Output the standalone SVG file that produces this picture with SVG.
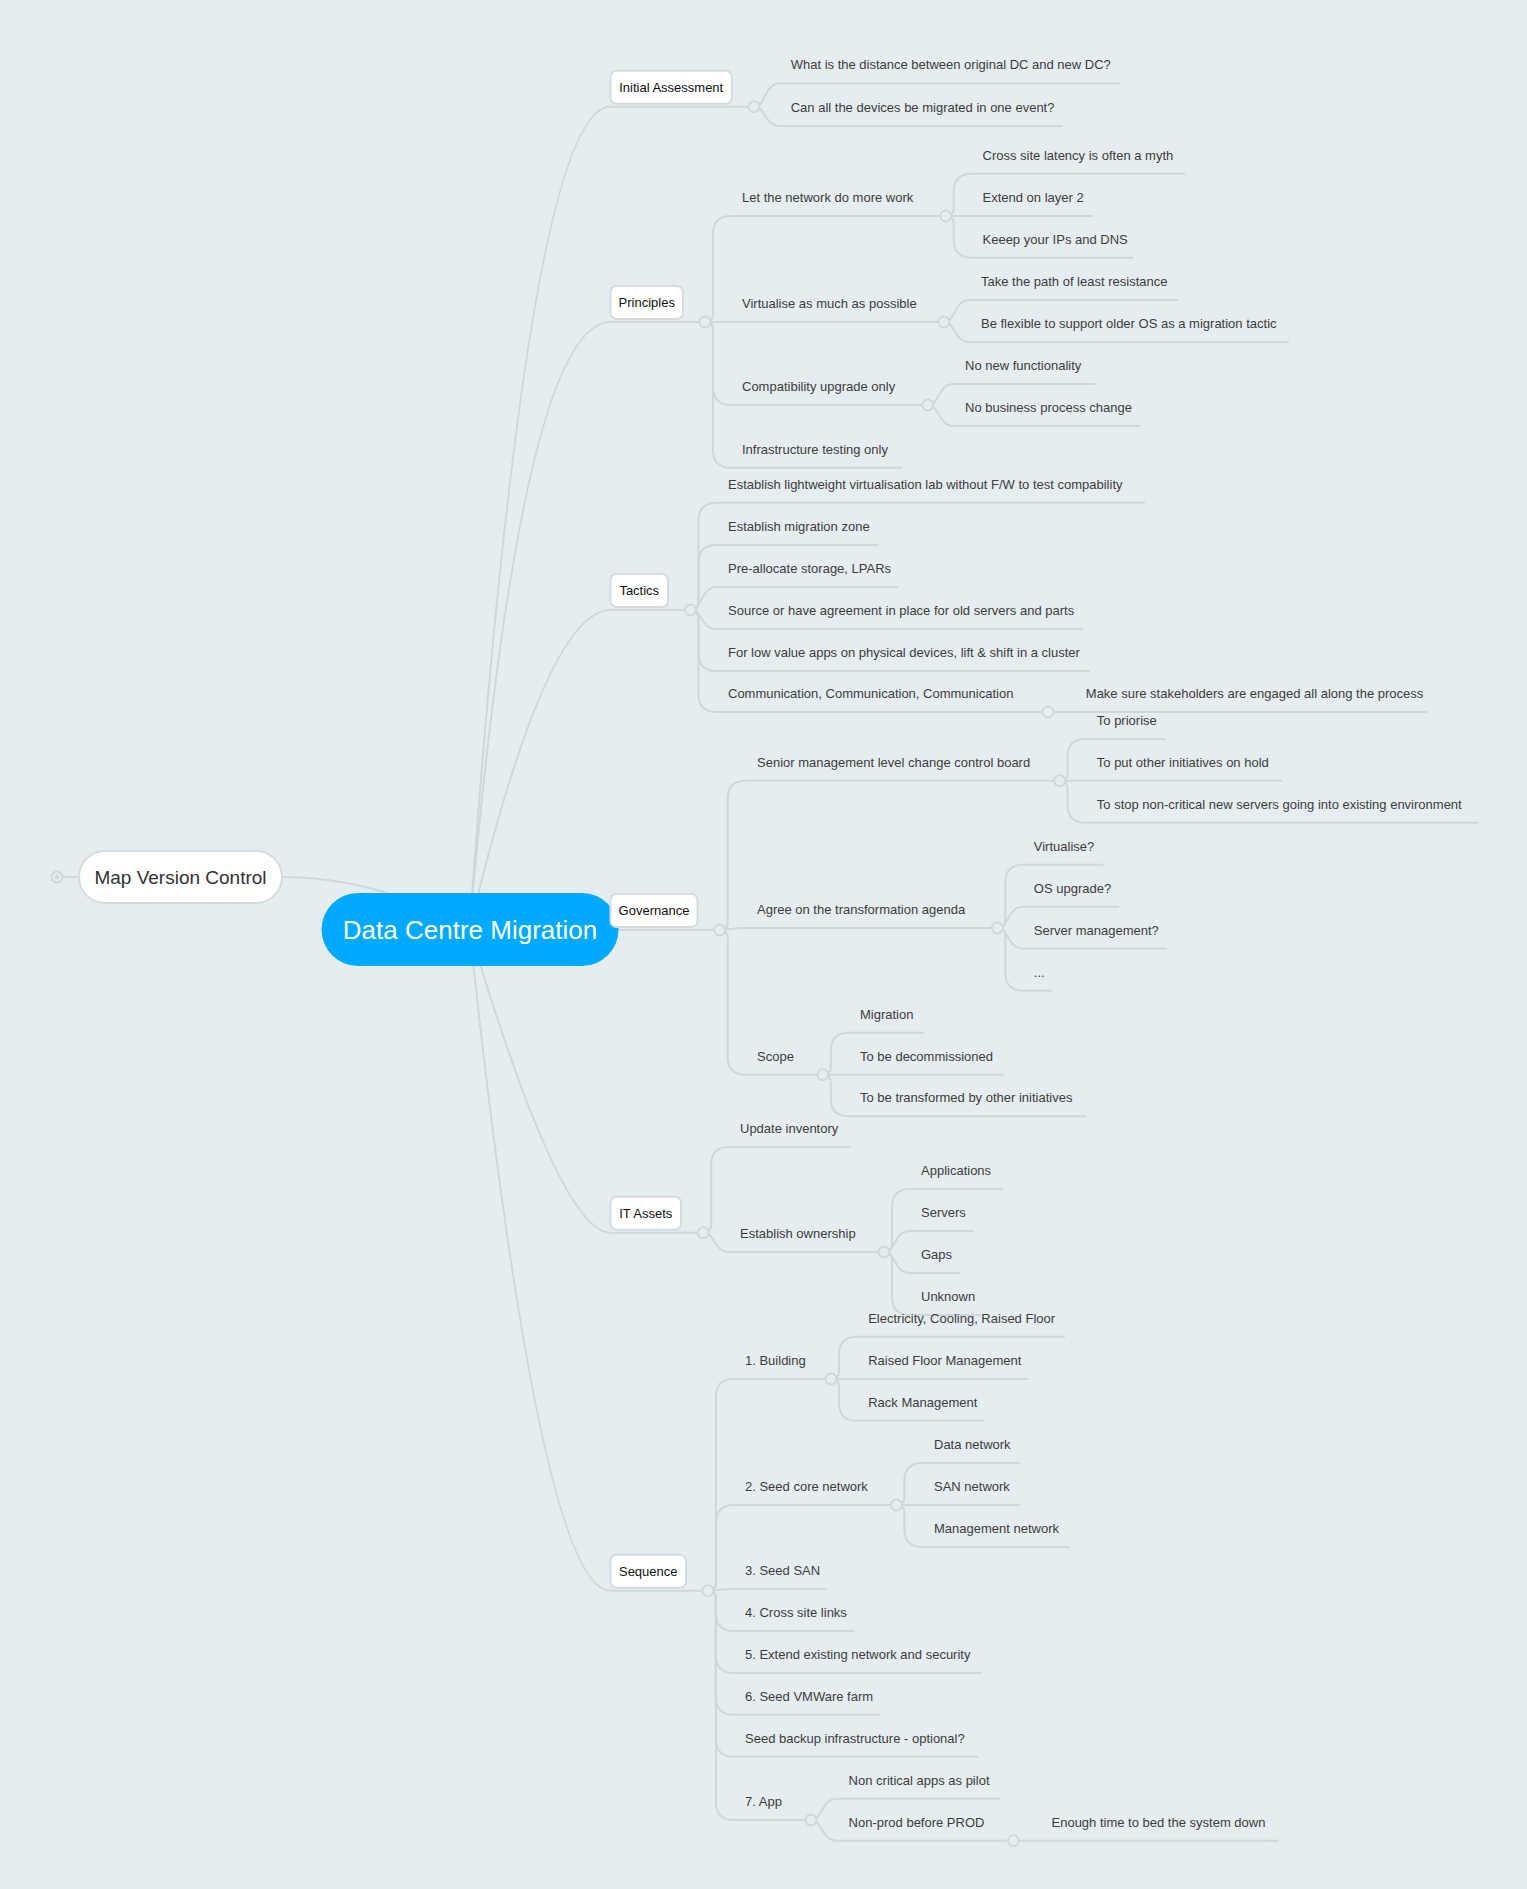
<svg xmlns="http://www.w3.org/2000/svg" width="1527" height="1889" viewBox="0 0 1527 1889">
<style>
.bg{fill:#e6edf1}
.ln{fill:none;stroke:#d0d6da;stroke-width:2;stroke-linecap:round}
.dot{fill:#e6edf1;stroke:#d0d6da;stroke-width:1.8}
.box{fill:#ffffff;stroke:#d5dbdf;stroke-width:2}
.mt{font-family:"Liberation Sans",Arial,sans-serif;font-size:13px;fill:#111111;text-anchor:middle}
.st{font-family:"Liberation Sans",Arial,sans-serif;font-size:13px;fill:#3c3c3c}
.rt{font-family:"Liberation Sans",Arial,sans-serif;font-size:26px;fill:#ffffff;text-anchor:middle}
.ft{font-family:"Liberation Sans",Arial,sans-serif;font-size:19px;fill:#333333;text-anchor:middle}
</style>
<rect class="bg" x="0" y="0" width="1527" height="1889"/>
<g id="connectors">
<path class="ln" d="M282,877 Q380,877 469.5,929.5"/>
<path class="ln" d="M62,877 L79,877"/>
<path class="ln" d="M469.5,929.5 Q528,106.7 610.5,106.7 L754,106.7"/>
<path class="ln" d="M469.5,929.5 Q522,322 610.5,322 L705,322"/>
<path class="ln" d="M469.5,929.5 Q546,610 610.5,610 L690.5,610"/>
<path class="ln" d="M469.5,930 L719.7,930"/>
<path class="ln" d="M469.5,929.5 Q560,1232.7 610.5,1232.7 L703.2,1232.7"/>
<path class="ln" d="M469.5,929.5 Q540,1590.7 610.5,1590.7 L707.9,1590.7"/>
<path class="ln" d="M754,106.7 C766,106.7 764,83.3 780,83.3 L1119,83.3"/>
<path class="ln" d="M754,106.7 C766,106.7 764,126 780,126 L1062,126"/>
<path class="ln" d="M705,322 Q713,322 713,314 L713,234 Q713,216 731,216 L945.7,216"/>
<path class="ln" d="M705,322 L943.8,322"/>
<path class="ln" d="M705,322 Q713,322 713,330 L713,387 Q713,405 731,405 L927.8,405"/>
<path class="ln" d="M705,322 Q713,322 713,330 L713,449.7 Q713,467.7 731,467.7 L901,467.7"/>
<path class="ln" d="M945.7,216 Q953.7,216 953.7,208 L953.7,191.7 Q953.7,173.7 971.7,173.7 L1184.5,173.7"/>
<path class="ln" d="M945.7,216 L1092,216"/>
<path class="ln" d="M945.7,216 Q953.7,216 953.7,224 L953.7,239.7 Q953.7,257.7 971.7,257.7 L1132.6,257.7"/>
<path class="ln" d="M943.8,322 C955.8,322 953.8,300 969.8,300 L1177,300"/>
<path class="ln" d="M943.8,322 C955.8,322 953.8,342 969.8,342 L1288,342"/>
<path class="ln" d="M927.8,405 C939.8,405 937.8,384 953.8,384 L1094.4,384"/>
<path class="ln" d="M927.8,405 C939.8,405 937.8,426 953.8,426 L1139.7,426"/>
<path class="ln" d="M690.5,610 Q698.5,610 698.5,602 L698.5,520.7 Q698.5,502.7 716.5,502.7 L1144,502.7"/>
<path class="ln" d="M690.5,610 Q698.5,610 698.5,602 L698.5,563 Q698.5,545 716.5,545 L878,545"/>
<path class="ln" d="M690.5,610 C702.5,610 700.5,587 716.5,587 L897,587"/>
<path class="ln" d="M690.5,610 C702.5,610 700.5,629 716.5,629 L1082,629"/>
<path class="ln" d="M690.5,610 Q698.5,610 698.5,618 L698.5,653 Q698.5,671 716.5,671 L1089,671"/>
<path class="ln" d="M690.5,610 Q698.5,610 698.5,618 L698.5,694 Q698.5,712 716.5,712 L1048,712"/>
<path class="ln" d="M1048,712 L1426,712"/>
<path class="ln" d="M719.7,930 Q727.7,930 727.7,922 L727.7,798.7 Q727.7,780.7 745.7,780.7 L1059.6,780.7"/>
<path class="ln" d="M719.7,930 C728,930 730,928 745.7,928 L997.3,928"/>
<path class="ln" d="M719.7,930 Q727.7,930 727.7,938 L727.7,1056.7 Q727.7,1074.7 745.7,1074.7 L822.8,1074.7"/>
<path class="ln" d="M1059.6,780.7 Q1067.6,780.7 1067.6,772.7 L1067.6,757 Q1067.6,739 1085.6,739 L1165,739"/>
<path class="ln" d="M1059.6,780.7 L1281.4,780.7"/>
<path class="ln" d="M1059.6,780.7 Q1067.6,780.7 1067.6,788.7 L1067.6,804.7 Q1067.6,822.7 1085.6,822.7 L1477.5,822.7"/>
<path class="ln" d="M997.3,928 Q1005.3,928 1005.3,920 L1005.3,882.7 Q1005.3,864.7 1023.3,864.7 L1102.8,864.7"/>
<path class="ln" d="M997.3,928 C1009.3,928 1007.3,906.7 1023.3,906.7 L1118.4,906.7"/>
<path class="ln" d="M997.3,928 C1009.3,928 1007.3,948.7 1023.3,948.7 L1166.3,948.7"/>
<path class="ln" d="M997.3,928 Q1005.3,928 1005.3,936 L1005.3,972.7 Q1005.3,990.7 1023.3,990.7 L1051.2,990.7"/>
<path class="ln" d="M822.8,1074.7 Q830.8,1074.7 830.8,1066.7 L830.8,1050.7 Q830.8,1032.7 848.8,1032.7 L923.5,1032.7"/>
<path class="ln" d="M822.8,1074.7 L1002.7,1074.7"/>
<path class="ln" d="M822.8,1074.7 Q830.8,1074.7 830.8,1082.7 L830.8,1098.3 Q830.8,1116.3 848.8,1116.3 L1085.4,1116.3"/>
<path class="ln" d="M703.2,1232.7 Q711.2,1232.7 711.2,1224.7 L711.2,1165 Q711.2,1147 729.2,1147 L849.6,1147"/>
<path class="ln" d="M703.2,1232.7 C715.2,1232.7 713.2,1252 729.2,1252 L884,1252"/>
<path class="ln" d="M884,1252 Q892,1252 892,1244 L892,1207 Q892,1189 910,1189 L1002,1189"/>
<path class="ln" d="M884,1252 C896,1252 894,1231 910,1231 L972.9,1231"/>
<path class="ln" d="M884,1252 C896,1252 894,1273 910,1273 L959.3,1273"/>
<path class="ln" d="M884,1252 Q892,1252 892,1260 L892,1297 Q892,1315 910,1315 L980,1315"/>
<path class="ln" d="M707.9,1590.7 Q715.9,1590.7 715.9,1582.7 L715.9,1397 Q715.9,1379 733.9,1379 L831,1379"/>
<path class="ln" d="M707.9,1590.7 Q715.9,1590.7 715.9,1582.7 L715.9,1523 Q715.9,1505 733.9,1505 L896.4,1505"/>
<path class="ln" d="M707.9,1590.7 C715,1590.7 720,1589 733.9,1589 L825.7,1589"/>
<path class="ln" d="M707.9,1590.7 Q715.9,1590.7 715.9,1598.7 L715.9,1613 Q715.9,1631 733.9,1631 L853.6,1631"/>
<path class="ln" d="M707.9,1590.7 Q715.9,1590.7 715.9,1598.7 L715.9,1655 Q715.9,1673 733.9,1673 L980.7,1673"/>
<path class="ln" d="M707.9,1590.7 Q715.9,1590.7 715.9,1598.7 L715.9,1696.7 Q715.9,1714.7 733.9,1714.7 L879.4,1714.7"/>
<path class="ln" d="M707.9,1590.7 Q715.9,1590.7 715.9,1598.7 L715.9,1738.7 Q715.9,1756.7 733.9,1756.7 L977.6,1756.7"/>
<path class="ln" d="M707.9,1590.7 Q715.9,1590.7 715.9,1598.7 L715.9,1802 Q715.9,1820 733.9,1820 L811,1820"/>
<path class="ln" d="M831,1379 Q839,1379 839,1371 L839,1354.7 Q839,1336.7 857,1336.7 L1064,1336.7"/>
<path class="ln" d="M831,1379 L1027.5,1379"/>
<path class="ln" d="M831,1379 Q839,1379 839,1387 L839,1402.7 Q839,1420.7 857,1420.7 L983.6,1420.7"/>
<path class="ln" d="M896.4,1505 Q904.4,1505 904.4,1497 L904.4,1481 Q904.4,1463 922.4,1463 L1019.3,1463"/>
<path class="ln" d="M896.4,1505 L1019.3,1505"/>
<path class="ln" d="M896.4,1505 Q904.4,1505 904.4,1513 L904.4,1529 Q904.4,1547 922.4,1547 L1069.3,1547"/>
<path class="ln" d="M811,1820 C823,1820 821,1798.7 837,1798.7 L999.6,1798.7"/>
<path class="ln" d="M811,1820 C823,1820 821,1840.7 837,1840.7 L1013.4,1840.7"/>
<path class="ln" d="M1013.4,1840.7 L1277.9,1840.7"/>
</g>
<g id="handles">
<circle class="dot" cx="57" cy="877" r="5.5"/><circle cx="57" cy="877" r="2.2" fill="#d0d6da"/>
<circle class="dot" cx="754" cy="106.7" r="5.5"/>
<circle class="dot" cx="705" cy="322" r="5.5"/>
<circle class="dot" cx="945.7" cy="216" r="5.5"/>
<circle class="dot" cx="943.8" cy="322" r="5.5"/>
<circle class="dot" cx="927.8" cy="405" r="5.5"/>
<circle class="dot" cx="690.5" cy="610" r="5.5"/>
<circle class="dot" cx="1048" cy="712" r="5.5"/>
<circle class="dot" cx="719.7" cy="930" r="5.5"/>
<circle class="dot" cx="1059.6" cy="780.7" r="5.5"/>
<circle class="dot" cx="997.3" cy="928" r="5.5"/>
<circle class="dot" cx="822.8" cy="1074.7" r="5.5"/>
<circle class="dot" cx="703.2" cy="1232.7" r="5.5"/>
<circle class="dot" cx="884" cy="1252" r="5.5"/>
<circle class="dot" cx="707.9" cy="1590.7" r="5.5"/>
<circle class="dot" cx="831" cy="1379" r="5.5"/>
<circle class="dot" cx="896.4" cy="1505" r="5.5"/>
<circle class="dot" cx="811" cy="1820" r="5.5"/>
<circle class="dot" cx="1013.4" cy="1840.7" r="5.5"/>
</g>
<g id="map-version-control">
<rect class="box" x="79" y="851" width="203" height="52" rx="26"/>
<text class="ft" x="180.5" y="883.5">Map Version Control</text>
</g>
<g id="root">
<rect x="321.5" y="893" width="297" height="73" rx="36.5" fill="#00aaff"/>
<text class="rt" x="470" y="938.5">Data Centre Migration</text>
</g>
<g id="initial-assessment">
<rect class="box" x="610.5" y="70.7" width="121.4" height="33" rx="6"/>
<text class="mt" x="671.2" y="91.5">Initial Assessment</text>
</g>
<g id="principles">
<rect class="box" x="610.5" y="286" width="72.5" height="33" rx="6"/>
<text class="mt" x="646.75" y="307">Principles</text>
</g>
<g id="tactics">
<rect class="box" x="610.5" y="574" width="57.5" height="33" rx="6"/>
<text class="mt" x="639.25" y="595">Tactics</text>
</g>
<g id="governance">
<rect class="box" x="610.5" y="894" width="87" height="33" rx="6"/>
<text class="mt" x="654" y="915">Governance</text>
</g>
<g id="it-assets">
<rect class="box" x="610.5" y="1196.7" width="70.5" height="33" rx="6"/>
<text class="mt" x="645.75" y="1217.7">IT Assets</text>
</g>
<g id="sequence">
<rect class="box" x="610.5" y="1554.7" width="75.5" height="33" rx="6"/>
<text class="mt" x="648.25" y="1575.7">Sequence</text>
</g>
<g id="subtopics">
<g id="ia-1"><text class="st" x="790.7" y="69.3">What is the distance between original DC and new DC?</text></g>
<g id="ia-2"><text class="st" x="790.7" y="112">Can all the devices be migrated in one event?</text></g>
<g id="pr-1"><text class="st" x="742" y="202">Let the network do more work</text></g>
<g id="pr-1-1"><text class="st" x="982.5" y="159.7">Cross site latency is often a myth</text></g>
<g id="pr-1-2"><text class="st" x="982.5" y="202">Extend on layer 2</text></g>
<g id="pr-1-3"><text class="st" x="982.5" y="243.7">Keeep your IPs and DNS</text></g>
<g id="pr-2"><text class="st" x="742" y="308">Virtualise as much as possible</text></g>
<g id="pr-2-1"><text class="st" x="981" y="286">Take the path of least resistance</text></g>
<g id="pr-2-2"><text class="st" x="981" y="328">Be flexible to support older OS as a migration tactic</text></g>
<g id="pr-3"><text class="st" x="742" y="391">Compatibility upgrade only</text></g>
<g id="pr-3-1"><text class="st" x="965" y="370">No new functionality</text></g>
<g id="pr-3-2"><text class="st" x="965" y="412">No business process change</text></g>
<g id="pr-4"><text class="st" x="742" y="453.7">Infrastructure testing only</text></g>
<g id="ta-1"><text class="st" x="728" y="488.7">Establish lightweight virtualisation lab without F/W to test compability</text></g>
<g id="ta-2"><text class="st" x="728" y="531">Establish migration zone</text></g>
<g id="ta-3"><text class="st" x="728" y="573">Pre-allocate storage, LPARs</text></g>
<g id="ta-4"><text class="st" x="728" y="615">Source or have agreement in place for old servers and parts</text></g>
<g id="ta-5"><text class="st" x="728" y="657">For low value apps on physical devices, lift &amp; shift in a cluster</text></g>
<g id="ta-6"><text class="st" x="728" y="698">Communication, Communication, Communication</text></g>
<g id="ta-6-1"><text class="st" x="1085.8" y="698">Make sure stakeholders are engaged all along the process</text></g>
<g id="gv-1"><text class="st" x="757" y="766.7">Senior management level change control board</text></g>
<g id="gv-1-1"><text class="st" x="1096.8" y="725">To priorise</text></g>
<g id="gv-1-2"><text class="st" x="1096.8" y="766.7">To put other initiatives on hold</text></g>
<g id="gv-1-3"><text class="st" x="1096.8" y="808.7">To stop non-critical new servers going into existing environment</text></g>
<g id="gv-2"><text class="st" x="757" y="914">Agree on the transformation agenda</text></g>
<g id="gv-2-1"><text class="st" x="1033.8" y="850.7">Virtualise?</text></g>
<g id="gv-2-2"><text class="st" x="1033.8" y="892.7">OS upgrade?</text></g>
<g id="gv-2-3"><text class="st" x="1033.8" y="934.7">Server management?</text></g>
<g id="gv-2-4"><text class="st" x="1033.8" y="976.7">...</text></g>
<g id="gv-3"><text class="st" x="757" y="1060.7">Scope</text></g>
<g id="gv-3-1"><text class="st" x="860" y="1018.7">Migration</text></g>
<g id="gv-3-2"><text class="st" x="860" y="1060.7">To be decommissioned</text></g>
<g id="gv-3-3"><text class="st" x="860" y="1102.3">To be transformed by other initiatives</text></g>
<g id="it-1"><text class="st" x="740" y="1133">Update inventory</text></g>
<g id="it-2"><text class="st" x="740" y="1238">Establish ownership</text></g>
<g id="it-2-1"><text class="st" x="921" y="1175">Applications</text></g>
<g id="it-2-2"><text class="st" x="921" y="1217">Servers</text></g>
<g id="it-2-3"><text class="st" x="921" y="1259">Gaps</text></g>
<g id="it-2-4"><text class="st" x="921" y="1301">Unknown</text></g>
<g id="sq-1"><text class="st" x="745" y="1365">1. Building</text></g>
<g id="sq-1-1"><text class="st" x="868.2" y="1322.7">Electricity, Cooling, Raised Floor</text></g>
<g id="sq-1-2"><text class="st" x="868.2" y="1365">Raised Floor Management</text></g>
<g id="sq-1-3"><text class="st" x="868.2" y="1406.7">Rack Management</text></g>
<g id="sq-2"><text class="st" x="745" y="1491">2. Seed core network</text></g>
<g id="sq-2-1"><text class="st" x="934" y="1449">Data network</text></g>
<g id="sq-2-2"><text class="st" x="934" y="1491">SAN network</text></g>
<g id="sq-2-3"><text class="st" x="934" y="1533">Management network</text></g>
<g id="sq-3"><text class="st" x="745" y="1575">3. Seed SAN</text></g>
<g id="sq-4"><text class="st" x="745" y="1617">4. Cross site links</text></g>
<g id="sq-5"><text class="st" x="745" y="1659">5. Extend existing network and security</text></g>
<g id="sq-6"><text class="st" x="745" y="1700.7">6. Seed VMWare farm</text></g>
<g id="sq-7"><text class="st" x="745" y="1742.7">Seed backup infrastructure - optional?</text></g>
<g id="sq-8"><text class="st" x="745" y="1806">7. App</text></g>
<g id="sq-8-1"><text class="st" x="848.6" y="1784.7">Non critical apps as pilot</text></g>
<g id="sq-8-2"><text class="st" x="848.6" y="1826.7">Non-prod before PROD</text></g>
<g id="sq-8-2-1"><text class="st" x="1051.5" y="1826.7">Enough time to bed the system down</text></g>
</g>
</svg>
